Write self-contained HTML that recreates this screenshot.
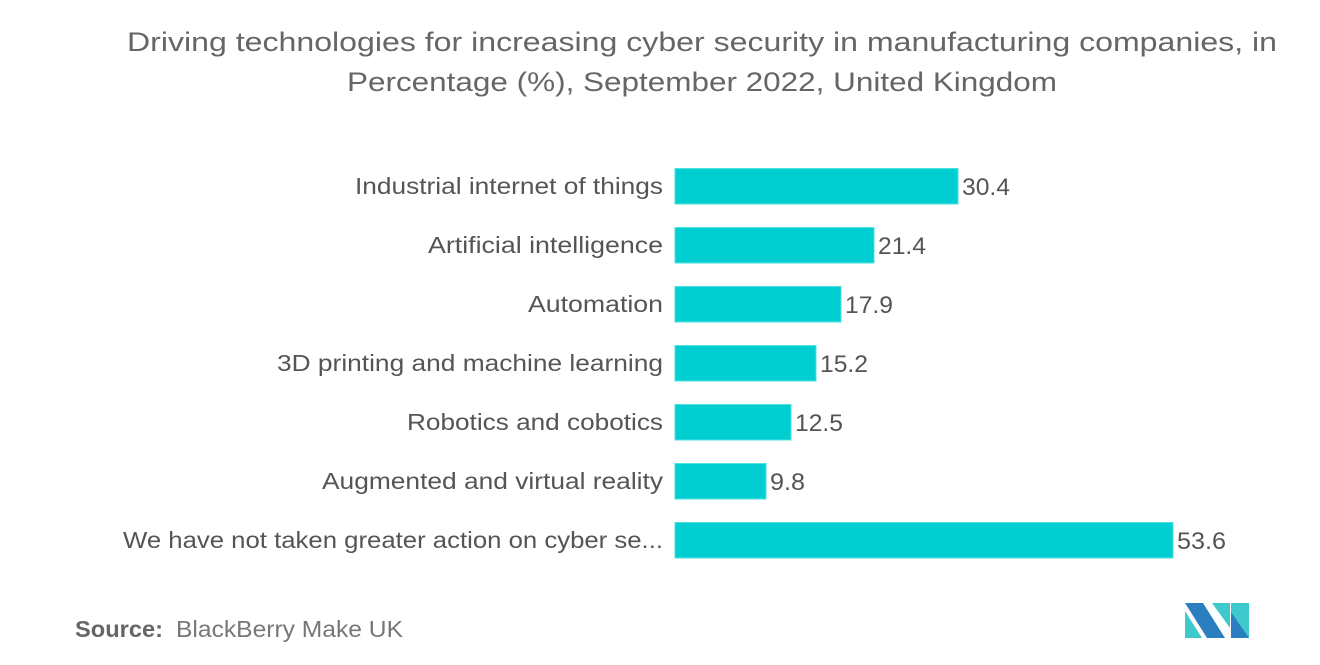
<!DOCTYPE html>
<html>
<head>
<meta charset="utf-8">
<style>
html,body{margin:0;padding:0;background:#fff;}
svg{display:block;}
text{font-family:"Liberation Sans",sans-serif;}
</style>
</head>
<body>
<svg width="1320" height="665" viewBox="0 0 1320 665" xmlns="http://www.w3.org/2000/svg">
<rect width="1320" height="665" fill="#fff"/>
<g fill="#666" font-size="27">
<text x="127" y="51" textLength="1150" lengthAdjust="spacingAndGlyphs">Driving technologies for increasing cyber security in manufacturing companies, in</text>
<text x="347" y="91" textLength="710" lengthAdjust="spacingAndGlyphs">Percentage (%), September 2022, United Kingdom</text>
</g>
<g fill="#00ced1" stroke="#4fe0e0" stroke-width="1">
<rect x="675" y="168.5" width="283" height="35.5"/>
<rect x="675" y="227.5" width="199" height="35.5"/>
<rect x="675" y="286.5" width="166" height="35.5"/>
<rect x="675" y="345.5" width="141" height="35.5"/>
<rect x="675" y="404.5" width="116" height="35.5"/>
<rect x="675" y="463.5" width="91" height="35.5"/>
<rect x="675" y="522.5" width="498" height="35.5"/>
</g>
<g fill="#555" font-size="23" text-anchor="end">
<text x="663" y="194" textLength="308" lengthAdjust="spacingAndGlyphs">Industrial internet of things</text>
<text x="663" y="253" textLength="235" lengthAdjust="spacingAndGlyphs">Artificial intelligence</text>
<text x="663" y="312" textLength="135" lengthAdjust="spacingAndGlyphs">Automation</text>
<text x="663" y="371" textLength="386" lengthAdjust="spacingAndGlyphs">3D printing and machine learning</text>
<text x="663" y="430" textLength="256" lengthAdjust="spacingAndGlyphs">Robotics and cobotics</text>
<text x="663" y="489" textLength="341" lengthAdjust="spacingAndGlyphs">Augmented and virtual reality</text>
<text x="663" y="548" textLength="540" lengthAdjust="spacingAndGlyphs">We have not taken greater action on cyber se...</text>
</g>
<g fill="#555" font-size="24">
<text x="962" y="195" textLength="48" lengthAdjust="spacingAndGlyphs">30.4</text>
<text x="878" y="254" textLength="48" lengthAdjust="spacingAndGlyphs">21.4</text>
<text x="845" y="313" textLength="48" lengthAdjust="spacingAndGlyphs">17.9</text>
<text x="820" y="372" textLength="48" lengthAdjust="spacingAndGlyphs">15.2</text>
<text x="795" y="431" textLength="48" lengthAdjust="spacingAndGlyphs">12.5</text>
<text x="770" y="490" textLength="35" lengthAdjust="spacingAndGlyphs">9.8</text>
<text x="1177" y="549" textLength="49" lengthAdjust="spacingAndGlyphs">53.6</text>
</g>
<text x="75" y="637" fill="#666" font-size="23" font-weight="bold" textLength="88" lengthAdjust="spacingAndGlyphs">Source:</text>
<text x="176" y="637" fill="#777" font-size="23" textLength="227" lengthAdjust="spacingAndGlyphs">BlackBerry Make UK</text>
<g>
<polygon points="1185,603 1203,603 1225,638 1207,638" fill="#2b7fc0"/>
<polygon points="1185,611 1185,638 1202,638" fill="#3ec9cc"/>
<polygon points="1212,603 1230,603 1230,628" fill="#3ec9cc"/>
<polygon points="1231,603 1249,603 1249,638 1231,638" fill="#3ec9cc"/>
<polygon points="1231,612 1249,638 1231,638" fill="#2b7fc0"/>
</g>
</svg>
</body>
</html>
